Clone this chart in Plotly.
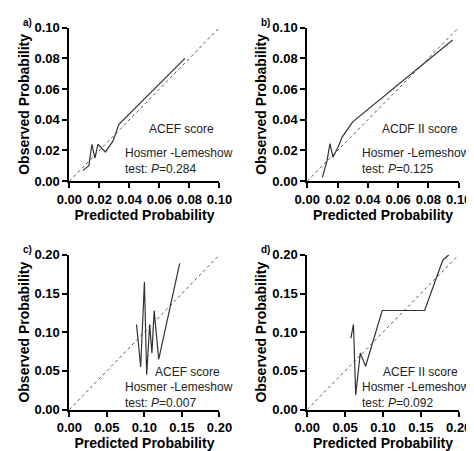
import plotly.graph_objects as go

# calibration curves
a_x = [0.009, 0.013, 0.015, 0.017, 0.019, 0.024, 0.029, 0.033, 0.077]
a_y = [0.007, 0.010, 0.024, 0.015, 0.024, 0.019, 0.026, 0.037, 0.080]
b_x = [0.010, 0.013, 0.015, 0.017, 0.0205, 0.023, 0.030, 0.096]
b_y = [0.0025, 0.013, 0.0245, 0.0155, 0.0225, 0.0287, 0.0386, 0.092]
c_x = [0.0895, 0.095, 0.100, 0.103, 0.107, 0.110, 0.113, 0.119, 0.147]
c_y = [0.110, 0.055, 0.165, 0.045, 0.110, 0.073, 0.128, 0.065, 0.189]
d_x = [0.0575, 0.061, 0.064, 0.070, 0.077, 0.099, 0.155, 0.179, 0.187]
d_y = [0.092, 0.110, 0.019, 0.073, 0.056, 0.128, 0.128, 0.193, 0.200]

panels = [
    ("a)", a_x, a_y, 0.10, "ACEF score", "0.284", 0.75, 0.34, 0.36, 0.13),
    ("b)", b_x, b_y, 0.10, "ACDF II score", "0.125", 0.745, 0.34, 0.345, 0.13),
    ("c)", c_x, c_y, 0.20, "ACEF score", "0.007", 0.79, 0.245, 0.36, 0.095),
    ("d)", d_x, d_y, 0.20, "ACEF II score", "0.092", 0.745, 0.245, 0.35, 0.095),
]

xdom = [[0.108, 0.443], [0.639, 0.977]]
ydom = [[0.619, 0.971], [0.095, 0.450]]

fig = go.Figure()
font = "Liberation Sans, Arial, sans-serif"

for i, (lab, xs, ys, top, name, p, nx, ny, hx, hy) in enumerate(panels):
    n = "" if i == 0 else str(i + 1)
    xa, ya = "x" + n, "y" + n
    fig.add_trace(go.Scatter(x=[0, top], y=[0, top], mode="lines", xaxis=xa, yaxis=ya,
                             line=dict(color="#555", width=1, dash="dot"), showlegend=False))
    fig.add_trace(go.Scatter(x=xs, y=ys, mode="lines", xaxis=xa, yaxis=ya,
                             line=dict(color="#333", width=1.2), showlegend=False))
    dt = 0.02 if top == 0.10 else 0.05
    axis = dict(range=[0, top], tick0=0, dtick=dt, tickformat=".2f", showgrid=False,
                zeroline=False, showline=True, linecolor="black", linewidth=2,
                ticks="outside", ticklen=5, tickwidth=2, tickcolor="black",
                tickfont=dict(family=font, size=13, color="black", weight="bold"))
    fig.layout["xaxis" + n] = dict(axis, domain=xdom[i % 2], anchor=ya,
                                   title=dict(text="<b>Predicted Probability</b>", standoff=2,
                                              font=dict(family=font, size=14, color="black")))
    fig.layout["yaxis" + n] = dict(axis, domain=ydom[i // 2], anchor=xa,
                                   title=dict(text="<b>Observed Probability</b>", standoff=2,
                                              font=dict(family=font, size=14, color="black")))
    fig.add_annotation(x=nx * top, y=ny * top, xref=xa, yref=ya,
                       text=name, showarrow=False, font=dict(family=font, size=12, color="#222"))
    fig.add_annotation(x=hx * top, y=hy * top, xref=xa, yref=ya, xanchor="left", align="left",
                       text="Hosmer -Lemeshow<br>test: <i>P</i>=" + p, showarrow=False,
                       font=dict(family=font, size=12, color="#222"))
    fig.add_annotation(x=xdom[i % 2][0] - 0.108, y=ydom[i // 2][1] + 0.03, xref="paper", yref="paper",
                       text="<b>" + lab + "</b>", showarrow=False, xanchor="left", yanchor="top",
                       font=dict(family=font, size=10, color="black"))

fig.update_layout(width=474, height=451, margin=dict(l=0, r=0, t=0, b=0),
                  plot_bgcolor="white", paper_bgcolor="white")
fig.write_html("out.html")
